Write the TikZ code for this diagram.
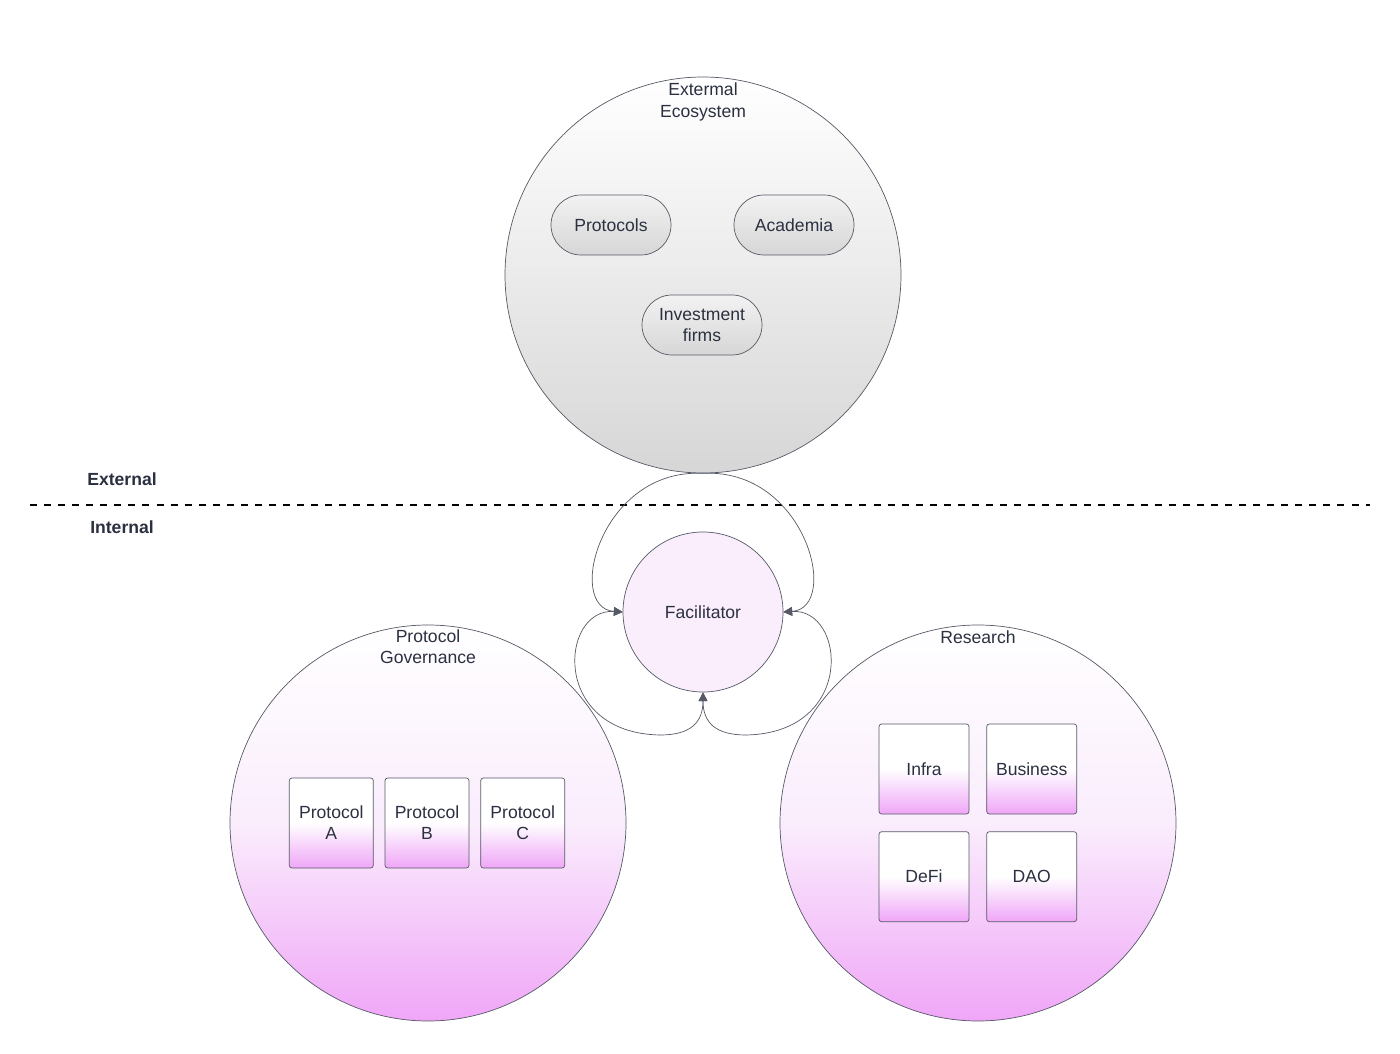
\documentclass[tikz,border=0pt]{standalone}
\usepackage{fontspec}
\setmainfont{Liberation Sans}
\usetikzlibrary{positioning,arrows.meta,shadings}
\definecolor{inkdark}{rgb}{0.17,0.19,0.25}
\definecolor{pinkdeep}{rgb}{0.94,0.65,0.97}
\definecolor{pinklight}{rgb}{0.98,0.93,0.99}
\definecolor{greydeep}{rgb}{0.84,0.84,0.84}
\begin{document}
\begin{tikzpicture}[every node/.style={text=inkdark,font=\fontsize{10}{12}\selectfont,align=center},
  bigcircle/.style={circle,draw=inkdark!80,minimum size=7.92cm,inner sep=0pt},
  greycircle/.style={bigcircle,top color=white,bottom color=greydeep},
  pinkcircle/.style={bigcircle,top color=white,bottom color=pinkdeep,middle color=pinklight},
  pill/.style={rectangle,rounded corners=0.6cm,draw=inkdark!80,minimum width=2.4cm,minimum height=1.2cm,top color=white!95!black,bottom color=greydeep},
  cardbox/.style={rectangle,rounded corners=1.5pt,draw=inkdark!80,minimum height=1.8cm,inner sep=1pt,top color=white,bottom color=pinkdeep,middle color=white},
  link/.style={draw=inkdark!80,-{Triangle[length=5pt,width=5pt]}}]
\useasboundingbox (0,0) rectangle (28,21.06);

% zones
\draw[thick,dash pattern=on 4pt off 4pt] (0.6,10.96) -- (27.4,10.96);
\node[font=\bfseries\fontsize{10}{12}\selectfont] (ext) at (2.44,11.48) {External};
\node[font=\bfseries\fontsize{10}{12}\selectfont] (int) at (2.44,10.52) {Internal};

% external ecosystem
\node[greycircle] (eco) at (14.06,15.56) {};
\node (ecot) at (14.06,19.02) {Extermal\\Ecosystem};
\node[pill] (prot) at (12.22,16.56) {Protocols};
\node[pill] (acad) at (15.88,16.56) {Academia};
\node[pill] (inv) at (14.04,14.56) {Investment\\firms};

% protocol governance
\node[pinkcircle] (gov) at (8.56,4.6) {};
\node (govt) at (8.56,8.12) {Protocol\\Governance};
\node[cardbox,minimum width=1.68cm] (pb) at (8.54,4.6) {Protocol\\B};
\node[cardbox,minimum width=1.68cm,left=0.22cm of pb] (pa) {Protocol\\A};
\node[cardbox,minimum width=1.68cm,right=0.22cm of pb] (pc) {Protocol\\C};

% research
\node[pinkcircle] (res) at (19.56,4.6) {};
\node (rest) at (19.56,8.32) {Research};
\node[cardbox,minimum width=1.8cm] (infra) at (18.48,5.68) {Infra};
\node[cardbox,minimum width=1.8cm,right=0.34cm of infra] (bus) {Business};
\node[cardbox,minimum width=1.8cm,below=0.34cm of infra] (defi) {DeFi};
\node[cardbox,minimum width=1.8cm,right=0.34cm of defi] (dao) {DAO};

% facilitator
\node[circle,draw=inkdark!80,fill=pinklight,minimum size=3.2cm,inner sep=0pt] (fac) at (14.06,8.82) {Facilitator};
\coordinate (gl) at (13.2,6.36);
\coordinate (gr) at (14.92,6.36);

% connectors
\draw[link] (eco.south) .. controls (12.0,11.7) and (11.3,8.9) .. (fac.west);
\draw[link] (eco.south) .. controls (16.12,11.7) and (16.82,8.9) .. (fac.east);
\draw[link] (gl) .. controls (11.0,6.4) and (11.2,8.9) .. (fac.west);
\draw[link] (gr) .. controls (17.12,6.4) and (16.92,8.9) .. (fac.east);
\draw[link] (gl) .. controls (13.8,6.36) and (14.06,6.6) .. (fac.south);
\draw[link] (gr) .. controls (14.32,6.36) and (14.06,6.6) .. (fac.south);
\end{tikzpicture}
\end{document}
